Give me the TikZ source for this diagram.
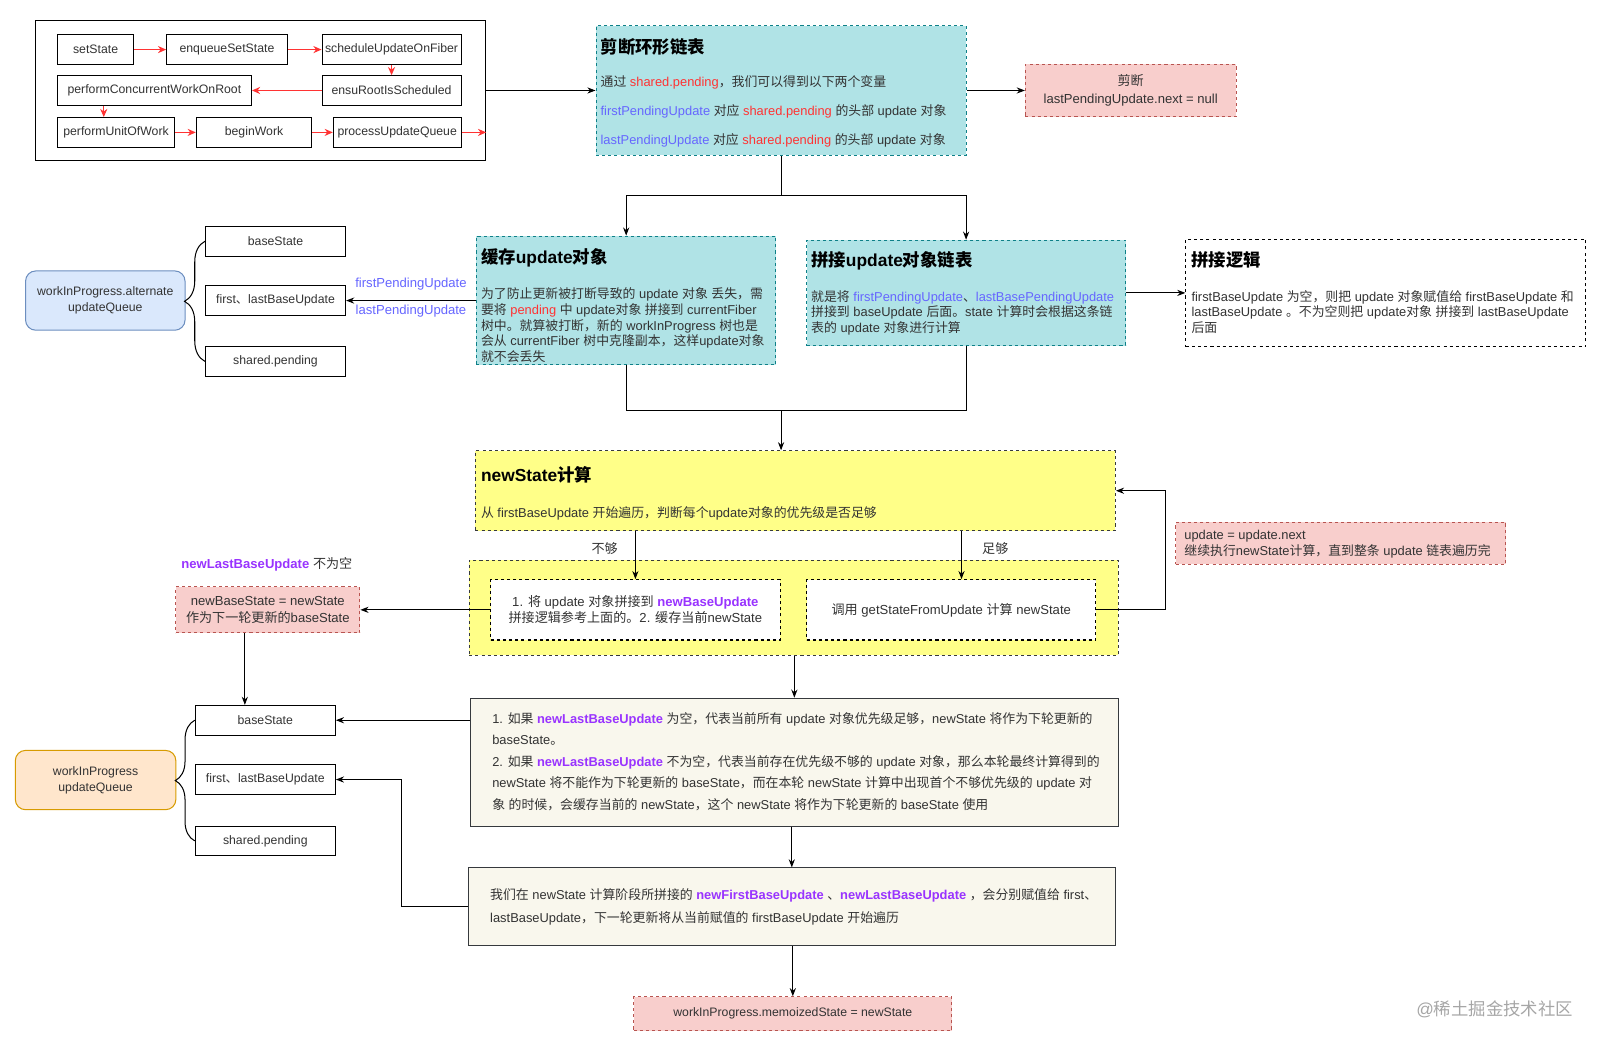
\documentclass[tikz,border=0pt]{standalone}
\usepackage{fontspec}
\setmainfont{Liberation Sans}
\newfontfamily\cjk{Noto Sans CJK SC}
\usetikzlibrary{positioning,arrows.meta,decorations.pathreplacing}

% han characters get their own class, so the font switches by itself
\newcount\hanchar
\def\hanrange#1#2{\hanchar=#1 \loop\XeTeXcharclass\hanchar=8 \advance\hanchar by 1 \ifnum\hanchar<#2 \repeat}
\hanrange{"3000}{"3040}
\hanrange{"4E00}{"A000}
\hanrange{"FF00}{"FFF0}
\XeTeXinterchartoks 0 8 = {\cjk}
\XeTeXinterchartoks 4095 8 = {\cjk}
\XeTeXinterchartoks 8 0 = {\rmfamily}
\XeTeXinterchartoks 8 4095 = {\rmfamily}
\XeTeXinterchartoks 4095 0 = {\rmfamily}
\AtBeginDocument{\XeTeXinterchartokenstate=1}

\definecolor{txt}{HTML}{333333}
\definecolor{cyanfill}{HTML}{B0E3E6}
\definecolor{cyanline}{HTML}{0E8088}
\definecolor{pinkfill}{HTML}{F8CECC}
\definecolor{pinkline}{HTML}{B85450}
\definecolor{yelfill}{HTML}{FFFF88}
\definecolor{darkline}{HTML}{36393D}
\definecolor{bluefill}{HTML}{DAE8FC}
\definecolor{blueline}{HTML}{6C8EBF}
\definecolor{orgfill}{HTML}{FFE6CC}
\definecolor{orgline}{HTML}{D79B00}
\definecolor{notefill}{HTML}{F9F7ED}
\definecolor{callred}{HTML}{FF3333}
\definecolor{varblue}{HTML}{6666FF}
\definecolor{varpurple}{HTML}{9933FF}
\definecolor{wmgray}{HTML}{A6A6A6}

\newcommand{\rtxt}[1]{\textcolor{callred}{#1}}
\newcommand{\btxt}[1]{\textcolor{varblue}{#1}}
\newcommand{\ptxt}[1]{\textcolor{varpurple}{\bfseries #1}}

\tikzstyle{fn}=[draw, fill=white, minimum height=29pt, inner sep=0pt, text=txt, font=\fontsize{12}{14}\selectfont]
\tikzstyle{call}=[-{Stealth[length=8pt,width=7pt]}, draw=callred]
\tikzstyle{cyanbox}=[draw=cyanline, fill=cyanfill, dash pattern=on 3pt off 3pt]
\tikzstyle{pinkbox}=[draw=pinkline, fill=pinkfill, dash pattern=on 3pt off 3pt, align=center, text=txt, font=\fontsize{12.8}{16}\selectfont]
\tikzstyle{yelbox}=[draw=darkline, fill=yelfill, dash pattern=on 3pt off 3pt]
\tikzstyle{inbox}=[draw=black, fill=white, dash pattern=on 3pt off 3pt, align=center, text=txt, font=\fontsize{12.8}{16}\selectfont]
\tikzstyle{notebox}=[draw=darkline, fill=notefill]
\tikzstyle{title}=[anchor=west, inner sep=0pt, font=\bfseries\fontsize{17}{20}\selectfont]
\tikzstyle{body}=[anchor=west, inner sep=0pt, align=left, text=txt, font=\fontsize{12.6}{15.5}\selectfont]
\tikzstyle{lbl}=[inner sep=0pt, text=txt, font=\fontsize{12.8}{15}\selectfont]

\begin{document}
\begin{tikzpicture}[x=1pt,y=-1pt,line width=1pt,>={Stealth[length=8pt,width=6pt]}]
\useasboundingbox (0,0) rectangle (1567,1023);

% call chain
\node[draw, minimum width=440pt, minimum height=137pt] (chain) at (255,88.5) {};
\node[fn, minimum width=75pt] (setstate) at (93.5,48.5) {setState};
\node[fn, minimum width=118pt, right of = setstate, node distance = 128.5pt] (enqueue) {enqueueSetState};
\node[fn, minimum width=136pt, right of = enqueue, node distance = 161pt] (schedule) {scheduleUpdateOnFiber};
\node[fn, minimum width=136pt] (ensure) at (383,88.5) {ensuRootIsScheduled};
\node[fn, minimum width=190pt] (concurrent) at (151,88.5) {performConcurrentWorkOnRoot};
\node[fn, minimum width=115pt] (unitwork) at (113.5,129.5) {performUnitOfWork};
\node[fn, minimum width=113pt, right of = unitwork, node distance = 135pt] (beginwork) {beginWork};
\node[fn, minimum width=125pt, right of = beginwork, node distance = 140pt] (process) {processUpdateQueue};
\draw[call] (setstate) -- (enqueue);
\draw[call] (enqueue) -- (schedule);
\draw[call] (schedule) -- (ensure);
\draw[call] (ensure) -- (concurrent);
\draw[call] ([xshift=-12pt]unitwork.north |- concurrent.south) -- ([xshift=-12pt]unitwork.north);
\draw[call] (unitwork) -- (beginwork);
\draw[call] (beginwork) -- (process);
\draw[call] (process.east) -- (process.east -| chain.east);

% cut the ring
\node[cyanbox, minimum width=362pt, minimum height=127pt] (cut) at (764,88.5) {};
\node[title] (cuttitle) at (587,46) {剪断环形链表};
\node[body] (cutl1) at (587,81) {通过 \rtxt{shared.pending}，我们可以得到以下两个变量};
\node[body] (cutl2) at (587,109) {\btxt{firstPendingUpdate} 对应 \rtxt{shared.pending} 的头部 update 对象};
\node[body] (cutl3) at (587,137) {\btxt{lastPendingUpdate} 对应 \rtxt{shared.pending} 的头部 update 对象};
\node[pinkbox, minimum width=206pt, minimum height=51pt, font=\fontsize{12.8}{17}\selectfont] (snip) at (1106,88.5) {剪断\\lastPendingUpdate.next = null};
\draw[->] (chain.east) -- (cut.west);
\draw[->] (cut.east) -- (snip.west);

% keep and link
\node[cyanbox, minimum width=293pt, minimum height=126pt] (cache) at (612.5,294) {};
\node[title] (cachetitle) at (470,252) {缓存update对象};
\node[body] (cachetext) at (470,318) {为了防止更新被打断导致的 update 对象 丢失，需\\要将 \rtxt{pending} 中 update对象 拼接到 currentFiber\\树中。就算被打断，新的 workInProgress 树也是\\会从 currentFiber 树中克隆副本，这样update对象\\就不会丢失};
\node[cyanbox, minimum width=312pt, minimum height=103pt] (link) at (945,286.5) {};
\node[title] (linktitle) at (793,255) {拼接update对象链表};
\node[body, font=\fontsize{12.6}{15}\selectfont] (linktext) at (793,306) {就是将 \btxt{firstPendingUpdate}、\btxt{lastBasePendingUpdate}\\拼接到 baseUpdate 后面。state 计算时会根据这条链\\表的 update 对象进行计算};
\node[draw, dash pattern=on 3pt off 3pt, minimum width=391pt, minimum height=105pt] (rule) at (1355.5,286.5) {};
\node[title] (ruletitle) at (1165,254) {拼接逻辑};
\node[body, font=\fontsize{12.6}{15}\selectfont] (ruletext) at (1165,305) {firstBaseUpdate 为空，则把 update 对象赋值给 firstBaseUpdate 和\\lastBaseUpdate 。不为空则把 update对象 拼接到 lastBaseUpdate\\后面};
\coordinate (split) at (764,191);
\draw[->] (cut.south) -- (split) -| (cache.north);
\draw[->] (split) -| (link.north);
\draw[->] (link.east) -- (rule.west);

% alternate queue
\node[draw=blueline, fill=bluefill, rounded corners=10pt, minimum width=156pt, minimum height=58pt, align=center, text=txt, font=\fontsize{12}{16}\selectfont] (altqueue) at (103,294) {workInProgress.alternate\\updateQueue};
\node[fn, minimum width=137pt] (altbase) at (269.5,236) {baseState};
\node[fn, minimum width=137pt] (altfirst) at (269.5,294) {first、lastBaseUpdate};
\node[fn, minimum width=137pt] (altpending) at (269.5,353.5) {shared.pending};
\draw[decorate, decoration={brace, amplitude=20pt}] (altpending.west) -- (altbase.west);
\draw[->] (cache.west) -- node[lbl, midway, yshift=16pt, text=varblue] {firstPendingUpdate} node[lbl, midway, yshift=-10pt, text=varblue] {lastPendingUpdate} (altfirst.east);

% newState loop
\coordinate (merge) at (764,402);
\draw (cache.south) |- (merge);
\draw (link.south) |- (merge);
\node[yelbox, minimum width=626pt, minimum height=78pt] (calc) at (778,480) {};
\draw[->] (merge) -- (merge |- calc.north);
\node[title] (calctitle) at (470,464) {newState计算};
\node[body] (calctext) at (470,502) {从 firstBaseUpdate 开始遍历，判断每个update对象的优先级是否足够};
\node[yelbox, minimum width=635pt, minimum height=93pt] (pass) at (776.5,594.5) {};
\node[inbox, minimum width=283pt, minimum height=59pt] (lack) at (621.5,596.5) {1. 将 update 对象拼接到 \ptxt{newBaseUpdate}\\拼接逻辑参考上面的。2. 缓存当前newState};
\node[inbox, minimum width=283pt, minimum height=59pt] (enough) at (930.5,596.5) {调用 getStateFromUpdate 计算 newState};
\draw[->] (lack.north |- calc.south) -- node[lbl, midway, xshift=-30pt, yshift=6pt] {不够} (lack.north);
\draw[->] ([xshift=10pt]enough.north |- calc.south) -- node[lbl, midway, xshift=33pt, yshift=6pt] {足够} ([xshift=10pt]enough.north);
\coordinate (loopback) at (1140,480);
\draw[->] (enough.east) -| (loopback) -- (calc.east);
\node[pinkbox, minimum width=323pt, minimum height=41pt] (nextupd) at (1311.5,531.5) {};
\node[body, font=\fontsize{12.6}{16}\selectfont] (nexttext) at (1158,532) {update = update.next\\继续执行newState计算，直到整条 update 链表遍历完};

% new base state
\node[pinkbox, minimum width=180pt, minimum height=45pt] (newbase) at (262,596.5) {newBaseState = newState\\作为下一轮更新的baseState};
\node[lbl] (notempty) at (261,552) {\ptxt{newLastBaseUpdate} 不为空};
\draw[->] (lack.west) -- (newbase.east);

% current queue
\node[draw=orgline, fill=orgfill, rounded corners=10pt, minimum width=157pt, minimum height=58pt, align=center, text=txt, font=\fontsize{12}{16}\selectfont] (wipqueue) at (93.5,763) {workInProgress\\updateQueue};
\node[fn, minimum width=137pt] (wipbase) at (259.5,704.5) {baseState};
\node[fn, minimum width=137pt] (wipfirst) at (259.5,762.5) {first、lastBaseUpdate};
\node[fn, minimum width=137pt] (wippending) at (259.5,822.5) {shared.pending};
\draw[decorate, decoration={brace, amplitude=19pt}] (wippending.west) -- (wipbase.west);
\draw[->] ([xshift=-20pt]wipbase.north |- newbase.south) -- ([xshift=-20pt]wipbase.north);

% notes
\node[notebox, minimum width=634pt, minimum height=125pt] (note1) at (777,745.5) {};
\node[body, font=\fontsize{12.6}{21}\selectfont] (note1text) at (481,745) {1. 如果 \ptxt{newLastBaseUpdate} 为空，代表当前所有 update 对象优先级足够，newState 将作为下轮更新的\\baseState。\\2. 如果 \ptxt{newLastBaseUpdate} 不为空，代表当前存在优先级不够的 update 对象，那么本轮最终计算得到的\\newState 将不能作为下轮更新的 baseState，而在本轮 newState 计算中出现首个不够优先级的 update 对\\象 的时候，会缓存当前的 newState，这个 newState 将作为下轮更新的 baseState 使用};
\draw[->] (note1.north |- pass.south) -- (note1.north);
\draw[->] (wipbase.east -| note1.west) -- (wipbase.east);
\node[notebox, minimum width=633pt, minimum height=76pt] (note2) at (774.5,887) {};
\node[body, font=\fontsize{12.6}{22}\selectfont] (note2text) at (479,887) {我们在 newState 计算阶段所拼接的 \ptxt{newFirstBaseUpdate} 、\ptxt{newLastBaseUpdate} ，会分别赋值给 first、\\lastBaseUpdate，下一轮更新将从当前赋值的 firstBaseUpdate 开始遍历};
\draw[->] (note2.north |- note1.south) -- (note2.north);
\coordinate (back) at (393,887);
\draw[->] (note2.west) -- (back) |- (wipfirst.east);
\node[pinkbox, minimum width=311pt, minimum height=33pt, font=\fontsize{12}{14}\selectfont] (memo) at (775.5,991.5) {workInProgress.memoizedState = newState};
\draw[->] (memo.north |- note2.south) -- (memo.north);

\node[text=wmgray, font=\fontsize{17}{20}\selectfont] (mark) at (1462,987) {@稀土掘金技术社区};
\end{tikzpicture}
\end{document}
